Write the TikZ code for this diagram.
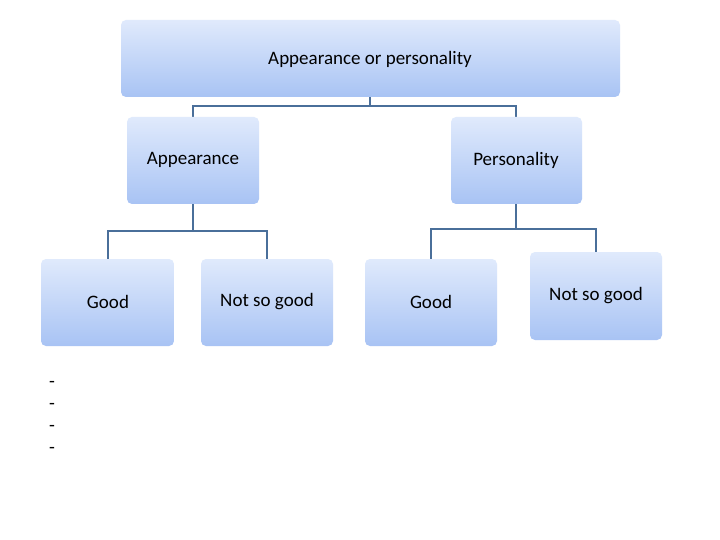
\documentclass[tikz,border=0pt]{standalone}
\usepackage{fontspec}
\setmainfont{Carlito}
\definecolor{boxtop}{HTML}{E0EAFC}
\definecolor{boxbot}{HTML}{A8C3F4}
\definecolor{conn}{HTML}{4A6F9A}
\begin{document}
\begin{tikzpicture}[x=1pt,y=-1pt,
  bx/.style={rounded corners=5pt,top color=boxtop,bottom color=boxbot,draw=none},
  ln/.style={draw=conn,line width=2.5pt},
  lbl/.style={font=\fontsize{19}{22}\selectfont,text=black}]
\useasboundingbox[fill=white] (0,0) rectangle (720,540);
% connectors
\draw[ln] (370,97) -- (370,106) -- (193,106) -- (193,117);
\draw[ln] (370,106) -- (516,106) -- (516,117);
\draw[ln] (193,204) -- (193,231) -- (108,231) -- (108,259);
\draw[ln] (193,231) -- (267,231) -- (267,259);
\draw[ln] (516,204) -- (516,229) -- (431,229) -- (431,259);
\draw[ln] (516,229) -- (596,229) -- (596,252);
% boxes
\path[bx] (121,20) rectangle (620,97);
\path[bx] (127,117) rectangle (259,204);
\path[bx] (451,117) rectangle (582,204);
\path[bx] (41,259) rectangle (174,346);
\path[bx] (201,259) rectangle (333,346);
\path[bx] (365,259) rectangle (497,346);
\path[bx] (530,252) rectangle (662,340);
% labels
\node[lbl] (root) at (370,59) {Appearance or personality};
\node[lbl] (app) at (193,160) {Appearance};
\node[lbl] (per) at (516,160) {Personality};
\node[lbl] (g1) at (108,302) {Good};
\node[lbl] (n1) at (267,302) {Not so good};
\node[lbl] (g2) at (431,302) {Good};
\node[lbl] (n2) at (596,296) {Not so good};
\node[lbl] (d1) at (52,384) {-};
\node[lbl] (d2) at (52,406) {-};
\node[lbl] (d3) at (52,428) {-};
\node[lbl] (d4) at (52,450) {-};
\end{tikzpicture}
\end{document}
